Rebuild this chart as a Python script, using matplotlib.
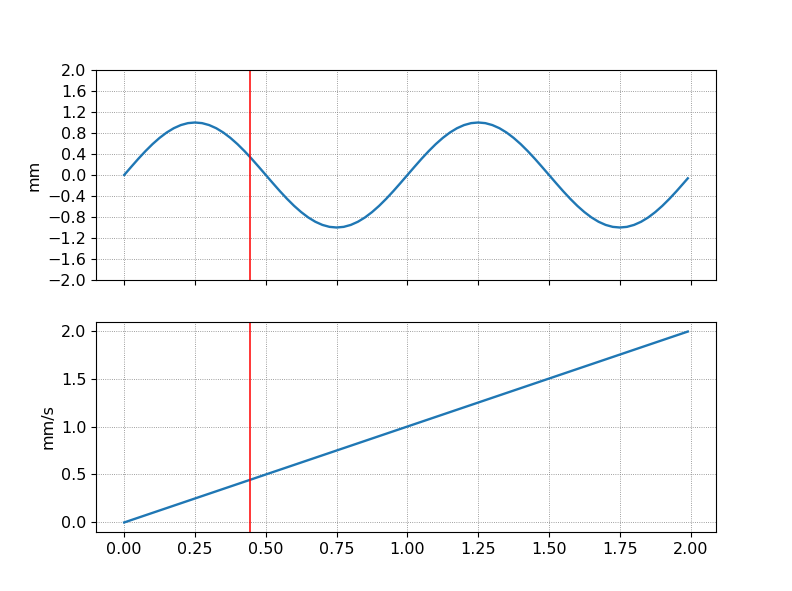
import matplotlib
matplotlib.use('Agg')
import matplotlib.pyplot as plt

# time samples (s), step 0.025 plus last point
t = [0.0, 0.025, 0.05, 0.075, 0.1, 0.125, 0.15, 0.175, 0.2, 0.225,
     0.25, 0.275, 0.3, 0.325, 0.35, 0.375, 0.4, 0.425, 0.45, 0.475,
     0.5, 0.525, 0.55, 0.575, 0.6, 0.625, 0.65, 0.675, 0.7, 0.725,
     0.75, 0.775, 0.8, 0.825, 0.85, 0.875, 0.9, 0.925, 0.95, 0.975,
     1.0, 1.025, 1.05, 1.075, 1.1, 1.125, 1.15, 1.175, 1.2, 1.225,
     1.25, 1.275, 1.3, 1.325, 1.35, 1.375, 1.4, 1.425, 1.45, 1.475,
     1.5, 1.525, 1.55, 1.575, 1.6, 1.625, 1.65, 1.675, 1.7, 1.725,
     1.75, 1.775, 1.8, 1.825, 1.85, 1.875, 1.9, 1.925, 1.95, 1.975, 1.99]

# position (mm)
pos = [0.0, 0.156, 0.309, 0.454, 0.588, 0.707, 0.809, 0.891, 0.951, 0.988,
       1.0, 0.988, 0.951, 0.891, 0.809, 0.707, 0.588, 0.454, 0.309, 0.156,
       0.0, -0.156, -0.309, -0.454, -0.588, -0.707, -0.809, -0.891, -0.951, -0.988,
       -1.0, -0.988, -0.951, -0.891, -0.809, -0.707, -0.588, -0.454, -0.309, -0.156,
       0.0, 0.156, 0.309, 0.454, 0.588, 0.707, 0.809, 0.891, 0.951, 0.988,
       1.0, 0.988, 0.951, 0.891, 0.809, 0.707, 0.588, 0.454, 0.309, 0.156,
       0.0, -0.156, -0.309, -0.454, -0.588, -0.707, -0.809, -0.891, -0.951, -0.988,
       -1.0, -0.988, -0.951, -0.891, -0.809, -0.707, -0.588, -0.454, -0.309, -0.156, -0.063]

# velocity (mm/s)
vel = [0.0, 0.025, 0.05, 0.075, 0.1, 0.125, 0.15, 0.175, 0.2, 0.225,
       0.25, 0.275, 0.3, 0.325, 0.35, 0.375, 0.4, 0.425, 0.45, 0.475,
       0.5, 0.525, 0.55, 0.575, 0.6, 0.625, 0.65, 0.675, 0.7, 0.725,
       0.75, 0.775, 0.8, 0.825, 0.85, 0.875, 0.9, 0.925, 0.95, 0.975,
       1.0, 1.025, 1.05, 1.075, 1.1, 1.125, 1.15, 1.175, 1.2, 1.225,
       1.25, 1.275, 1.3, 1.325, 1.35, 1.375, 1.4, 1.425, 1.45, 1.475,
       1.5, 1.525, 1.55, 1.575, 1.6, 1.625, 1.65, 1.675, 1.7, 1.725,
       1.75, 1.775, 1.8, 1.825, 1.85, 1.875, 1.9, 1.925, 1.95, 1.975, 1.99]

cursor = 0.445
top_ticks = [-2.0, -1.6, -1.2, -0.8, -0.4, 0.0, 0.4, 0.8, 1.2, 1.6, 2.0]

plt.rcParams['font.size'] = 11.5

fig, (ax1, ax2) = plt.subplots(2, 1, sharex=True, figsize=(7.92, 5.91), dpi=100)
fig.subplots_adjust(left=96/792, right=716/792, top=1-70/591, bottom=1-532/591, hspace=0.2)

ax1.plot(t, pos, linewidth=1.7)
ax1.axvline(cursor, color='red', linewidth=1.1)
ax1.set_ylim(-2, 2)
ax1.set_yticks(top_ticks)
ax1.set_ylabel('mm')
ax1.grid(True, linestyle=':', color='gray', linewidth=0.6)

ax2.plot(t, vel, linewidth=1.7)
ax2.axvline(cursor, color='red', linewidth=1.1)
ax2.set_ylabel('mm/s')
ax2.grid(True, linestyle=':', color='gray', linewidth=0.6)

fig.savefig('out.png', dpi=100)
